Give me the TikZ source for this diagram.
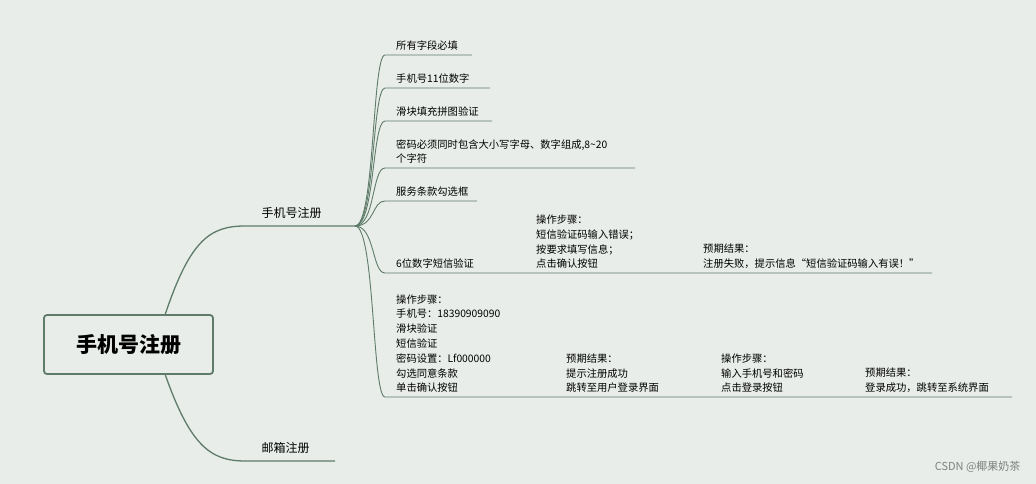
\documentclass[tikz,border=0pt]{standalone}
\usepackage{fontspec}
\setmainfont{Noto Sans CJK SC}
\definecolor{bgc}{HTML}{E8EDE9}
\definecolor{brc}{HTML}{5F7B69}
\tikzset{
  leaf/.style = {anchor = south west, inner sep = 1, align = left, font = \fontsize{10.3}{14.8}\selectfont},
  branch/.style = {brc, line width = 1.3},
  twig/.style = {brc, line width = 0.9}
}
\begin{document}
\begin{tikzpicture}[x = 1pt, y = -1pt]
			\fill[bgc] (0,0) rectangle (1036,484);
			\useasboundingbox (0,0) rectangle (1036,484);
			
			\node[draw = brc, line width = 1.8, fill = bgc, rounded corners = 3, minimum width = 169, minimum height = 59, font = \fontsize{21}{24}\selectfont\bfseries] (root) at (128.5,344.5) {手机号注册};
			
			% main branches
			\coordinate (phone) at (355,226);
			\coordinate (mail) at (335,461);
			\node[anchor = south west, font = \fontsize{12}{14}\selectfont] (phonelbl) at (258,222) {手机号注册};
			\node[anchor = south west, font = \fontsize{12}{14}\selectfont] (maillbl) at (258,457) {邮箱注册};
			\draw[branch] (165,315) .. controls (190,240) and (210,226) .. (245,226) -- (phone);
			\draw[branch] (165,374) .. controls (190,445) and (210,461) .. (245,461) -- (mail);
			
			% leaves
			\foreach \y/\len/\name/\txt in {55/472/c1/所有字段必填, 88/490/c2/手机号11位数字, 121/492/c3/滑块填充拼图验证, 168/635/c4/{密码必须同时包含大小写字母、数字组成,8\textasciitilde20\\个字符}, 201/477/c5/服务条款勾选框, 273/932/c6/6位数字短信验证}{
				\node[leaf] (\name) at (395,\y-3) {\txt};
				\draw[twig] (phone) .. controls (375,226) and (372,\y) .. (385,\y) -- (\len,\y);
			}
			\node[leaf] (c7) at (395,394) {操作步骤：\\手机号：18390909090\\滑块验证\\短信验证\\密码设置：Lf000000\\勾选同意条款\\单击确认按钮};
			\draw[twig] (phone) .. controls (375,226) and (372,397) .. (385,397) -- (1012,397);
			
			% sub nodes
			\node[leaf] (c6a) at (535,270) {操作步骤：\\短信验证码输入错误；\\按要求填写信息；\\点击确认按钮};
			\node[leaf] (c6b) at (702,270) {预期结果：\\注册失败，提示信息“短信验证码输入有误！”};
			\node[leaf] (c7a) at (565,394) {预期结果：\\提示注册成功\\跳转至用户登录界面};
			\node[leaf] (c7b) at (720,394) {操作步骤：\\输入手机号和密码\\点击登录按钮};
			\node[leaf] (c7c) at (864,394) {预期结果：\\登录成功，跳转至系统界面};
			
			\node[anchor = south east, text = gray, font = \fontsize{11}{13}\selectfont] (mark) at (1024,476) {CSDN @椰果奶茶};
		\end{tikzpicture}
\end{document}
